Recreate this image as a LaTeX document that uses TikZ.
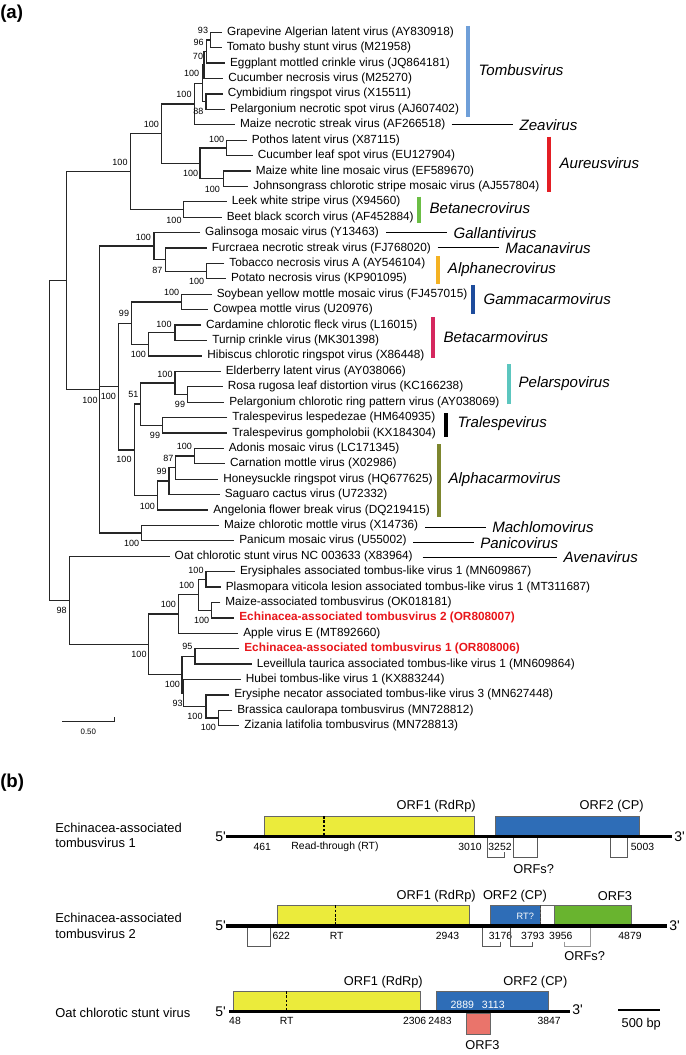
\documentclass[tikz,border=0pt]{standalone}
\usepackage{fontspec}
\setmainfont{Liberation Sans}
\definecolor{tombc}{HTML}{6F9FD8}
\definecolor{aurc}{HTML}{E31E24}
\definecolor{betanc}{HTML}{6BBE45}
\definecolor{alphanc}{HTML}{F4B223}
\definecolor{gammac}{HTML}{1E4C9C}
\definecolor{betac}{HTML}{D5275E}
\definecolor{pelc}{HTML}{5CC6BF}
\definecolor{alphac}{HTML}{7D862E}
\definecolor{echred}{HTML}{E8161B}
\definecolor{yel}{HTML}{EBEB3B}
\definecolor{blu}{HTML}{2E6DB7}
\definecolor{grn}{HTML}{69B42F}
\definecolor{sal}{HTML}{EA746B}
\newcommand\tedge[3]{\draw[br] (#2) -| (#1) |- (#3);}
\begin{document}
\begin{tikzpicture}[x=0.75pt,y=-0.75pt,
  br/.style={line width=0.95pt,black!85},
  leaf/.style={anchor=west,inner xsep=3.6pt,inner ysep=0pt,font=\fontsize{8.85}{10}\selectfont},
  hl/.style={leaf,text=echred,font=\fontsize{8.85}{10}\selectfont\bfseries},
  boot/.style={inner sep=0pt,font=\fontsize{6.75}{8}\selectfont},
  genus/.style={anchor=west,inner xsep=4.5pt,inner ysep=0pt,font=\fontsize{11.3}{13}\selectfont\itshape},
  cbar/.style={line width=3pt},
  gline/.style={line width=1pt,black},
  plab/.style={anchor=west,inner sep=0pt,font=\fontsize{14}{16}\selectfont\bfseries},
  gname/.style={anchor=west,align=left,inner sep=0pt,font=\fontsize{9.7}{11.7}\selectfont},
  pend/.style={anchor=west,inner sep=0pt,font=\fontsize{10.5}{12}\selectfont},
  gen/.style={line width=2.3pt,black},
  orfbox/.style={draw=black!60,line width=0.6pt},
  rtd/.style={line width=0.8pt,black,dash pattern=on 2pt off 1.2pt},
  orfl/.style={inner sep=0pt,font=\fontsize{9.6}{11}\selectfont},
  num/.style={inner sep=0pt,font=\fontsize{7.8}{9}\selectfont},
  sbox/.style={draw=black!65,line width=0.75pt},
  sboxl/.style={draw=black!40,line width=0.75pt}]
\useasboundingbox (0,0) rectangle (685,1055);
\node[plab] (pa) at (0,13.3) {(a)};
\node[plab] (pb) at (0,782.3) {(b)};
% ---------- leaves ----------
\node[leaf] (l1) at (222,32.3) {Grapevine Algerian latent virus (AY830918)};
\node[leaf] (l2) at (221.7,47.71) {Tomato bushy stunt virus (M21958)};
\node[leaf] (l3) at (225,63.12) {Eggplant mottled crinkle virus (JQ864181)};
\node[leaf] (l4) at (223.3,78.53) {Cucumber necrosis virus (M25270)};
\node[leaf] (l5) at (222.7,93.94) {Cymbidium ringspot virus (X15511)};
\node[leaf] (l6) at (225,109.35) {Pelargonium necrotic spot virus (AJ607402)};
\node[leaf] (l7) at (235,124.76) {Maize necrotic streak virus (AF266518)};
\node[leaf] (l8) at (246.7,140.17) {Pothos latent virus (X87115)};
\node[leaf] (l9) at (252.7,155.58) {Cucumber leaf spot virus (EU127904)};
\node[leaf] (l10) at (250.7,170.99) {Maize white line mosaic virus (EF589670)};
\node[leaf] (l11) at (248.3,186.4) {Johnsongrass chlorotic stripe mosaic virus (AJ557804)};
\node[leaf] (l12) at (226.7,201.81) {Leek white stripe virus (X94560)};
\node[leaf] (l13) at (221.7,217.22) {Beet black scorch virus (AF452884)};
\node[leaf] (l14) at (200,232.63) {Galinsoga mosaic virus (Y13463)};
\node[leaf] (l15) at (206.7,248.04) {Furcraea necrotic streak virus (FJ768020)};
\node[leaf] (l16) at (224.3,263.45) {Tobacco necrosis virus A (AY546104)};
\node[leaf] (l17) at (226,278.86) {Potato necrosis virus (KP901095)};
\node[leaf] (l18) at (211.7,294.27) {Soybean yellow mottle mosaic virus (FJ457015)};
\node[leaf] (l19) at (208.3,309.68) {Cowpea mottle virus (U20976)};
\node[leaf] (l20) at (201,325.09) {Cardamine chlorotic fleck virus (L16015)};
\node[leaf] (l21) at (207.3,340.5) {Turnip crinkle virus (MK301398)};
\node[leaf] (l22) at (202.3,355.91) {Hibiscus chlorotic ringspot virus (X86448)};
\node[leaf] (l23) at (220.7,371.32) {Elderberry latent virus (AY038066)};
\node[leaf] (l24) at (222.7,386.73) {Rosa rugosa leaf distortion virus (KC166238)};
\node[leaf] (l25) at (224.3,402.14) {Pelargonium chlorotic ring pattern virus (AY038069)};
\node[leaf] (l26) at (227.3,417.55) {Tralespevirus lespedezae (HM640935)};
\node[leaf] (l27) at (227.3,432.96) {Tralespevirus gompholobii (KX184304)};
\node[leaf] (l28) at (223.7,448.37) {Adonis mosaic virus (LC171345)};
\node[leaf] (l29) at (225,463.78) {Carnation mottle virus (X02986)};
\node[leaf] (l30) at (218.3,479.19) {Honeysuckle ringspot virus (HQ677625)};
\node[leaf] (l31) at (219.7,494.6) {Saguaro cactus virus (U72332)};
\node[leaf] (l32) at (208.3,510.01) {Angelonia flower break virus (DQ219415)};
\node[leaf] (l33) at (219,525.42) {Maize chlorotic mottle virus (X14736)};
\node[leaf] (l34) at (234.3,540.83) {Panicum mosaic virus (U55002)};
\node[leaf] (l35) at (169.5,556.24) {Oat chlorotic stunt virus NC 003633 (X83964)};
\node[leaf] (l36) at (235,571.65) {Erysiphales associated tombus-like virus 1 (MN609867)};
\node[leaf] (l37) at (220.7,587.06) {Plasmopara viticola lesion associated tombus-like virus 1 (MT311687)};
\node[leaf] (l38) at (220.3,602.47) {Maize-associated tombusvirus (OK018181)};
\node[hl] (l39) at (234.3,617.88) {Echinacea-associated tombusvirus 2 (OR808007)};
\node[leaf] (l40) at (238.3,633.29) {Apple virus E (MT892660)};
\node[hl] (l41) at (239.3,648.7) {Echinacea-associated tombusvirus 1 (OR808006)};
\node[leaf] (l42) at (251.7,664.11) {Leveillula taurica associated tombus-like virus 1 (MN609864)};
\node[leaf] (l43) at (240.7,679.52) {Hubei tombus-like virus 1 (KX883244)};
\node[leaf] (l44) at (229.3,694.93) {Erysiphe necator associated tombus-like virus 3 (MN627448)};
\node[leaf] (l45) at (232.3,710.34) {Brassica caulorapa tombusvirus (MN728812)};
\node[leaf] (l46) at (239.3,725.75) {Zizania latifolia tombusvirus (MN728813)};
% ---------- internal nodes ----------
\coordinate (A) at (210.7,40.0);
\coordinate (B) at (206.7,51.6);
\coordinate (C) at (204,65.1);
\coordinate (E) at (206,101.6);
\coordinate (D) at (202.7,83.4);
\coordinate (F) at (194.3,104.1);
\coordinate (P1) at (226.7,147.9);
\coordinate (P2) at (223.3,178.7);
\coordinate (H) at (200,163.3);
\coordinate (G) at (161.7,133.7);
\coordinate (Bn) at (183.3,209.5);
\coordinate (I) at (130.7,171.6);
\coordinate (R) at (206.7,271.2);
\coordinate (Q) at (165.7,259.6);
\coordinate (Gal) at (154,246.1);
\coordinate (Gm) at (181.7,302.0);
\coordinate (CT) at (175,332.8);
\coordinate (Bc) at (148.3,344.4);
\coordinate (GB) at (131.7,323.2);
\coordinate (RP) at (187.7,394.4);
\coordinate (Pel) at (175,382.9);
\coordinate (Tr) at (162.7,425.3);
\coordinate (PT) at (140.7,404.1);
\coordinate (AC) at (194.3,456.1);
\coordinate (AC2) at (175.7,467.6);
\coordinate (AC3) at (169,481.1);
\coordinate (Al) at (157.7,495.6);
\coordinate (N) at (134.3,449.9);
\coordinate (L) at (118.3,386.5);
\coordinate (MP) at (141.7,533.1);
\coordinate (K) at (99.3,389.6);
\coordinate (J) at (66.7,280.6);
\coordinate (V) at (206,579.4);
\coordinate (W) at (211.7,610.2);
\coordinate (U) at (198.3,594.8);
\coordinate (T) at (178.3,614.0);
\coordinate (Y) at (195,656.4);
\coordinate (BZ) at (218.3,718.0);
\coordinate (Zc) at (206,706.5);
\coordinate (X2) at (183.5,693.0);
\coordinate (X1) at (182,674.7);
\coordinate (S) at (148.3,644.4);
\coordinate (O) at (69.3,600.3);
\coordinate (Rt) at (49.3,440.5);
% ---------- edges ----------
\tedge{A}{l1.west}{l2.west}
\tedge{B}{A}{l3.west}
\tedge{C}{B}{l4.west}
\tedge{E}{l5.west}{l6.west}
\tedge{D}{C}{E}
\tedge{F}{D}{l7.west}
\tedge{P1}{l8.west}{l9.west}
\tedge{P2}{l10.west}{l11.west}
\tedge{H}{P1}{P2}
\tedge{G}{F}{H}
\tedge{Bn}{l12.west}{l13.west}
\tedge{I}{G}{Bn}
\tedge{R}{l16.west}{l17.west}
\tedge{Q}{l15.west}{R}
\tedge{Gal}{l14.west}{Q}
\tedge{Gm}{l18.west}{l19.west}
\tedge{CT}{l20.west}{l21.west}
\tedge{Bc}{CT}{l22.west}
\tedge{GB}{Gm}{Bc}
\tedge{RP}{l24.west}{l25.west}
\tedge{Pel}{l23.west}{RP}
\tedge{Tr}{l26.west}{l27.west}
\tedge{PT}{Pel}{Tr}
\tedge{AC}{l28.west}{l29.west}
\tedge{AC2}{AC}{l30.west}
\tedge{AC3}{AC2}{l31.west}
\tedge{Al}{AC3}{l32.west}
\tedge{N}{PT}{Al}
\tedge{L}{GB}{N}
\tedge{MP}{l33.west}{l34.west}
\tedge{K}{Gal}{MP}
\draw[br] (K |- L) -- (L);
\tedge{J}{I}{K}
\tedge{V}{l36.west}{l37.west}
\tedge{W}{l38.west}{l39.west}
\tedge{U}{V}{W}
\tedge{T}{U}{l40.west}
\tedge{Y}{l41.west}{l42.west}
\tedge{BZ}{l45.west}{l46.west}
\tedge{Zc}{l44.west}{BZ}
\tedge{X2}{l43.west}{Zc}
\tedge{X1}{Y}{X2}
\tedge{S}{T}{X1}
\tedge{O}{l35.west}{S}
\tedge{Rt}{J}{O}
% ---------- bootstrap ----------
\node[boot] (bA) at (203,30.7) {93};
\node[boot] (bB) at (198.7,42.3) {96};
\node[boot] (bC) at (198,56) {70};
\node[boot] (bE) at (198.3,111.7) {88};
\node[boot] (bD) at (191.7,73.3) {100};
\node[boot] (bF) at (184,94.3) {100};
\node[boot] (bG) at (151.3,124) {100};
\node[boot] (bP1) at (216.7,139.3) {100};
\node[boot] (bH) at (190.7,173.3) {100};
\node[boot] (bP2) at (212.3,189) {100};
\node[boot] (bI) at (120,162.7) {100};
\node[boot] (bBn) at (174,220) {100};
\node[boot] (bGal) at (143.3,237.3) {100};
\node[boot] (bQ) at (157.3,270) {87};
\node[boot] (bR) at (196.7,281.7) {100};
\node[boot] (bGm) at (171.7,292.7) {100};
\node[boot] (bGB) at (124,313.3) {99};
\node[boot] (bCT) at (164,324) {100};
\node[boot] (bBc) at (138.3,354.3) {100};
\node[boot] (bPel) at (165,374) {100};
\node[boot] (bPT) at (133.3,394) {51};
\node[boot] (bRP) at (180,404.3) {99};
\node[boot] (bTr) at (155,435.7) {99};
\node[boot] (bJ) at (90,400) {100};
\node[boot] (bK) at (108.3,396) {100};
\node[boot] (bAC) at (184.3,446.7) {100};
\node[boot] (bAC2) at (168.3,458.3) {87};
\node[boot] (bN) at (124,459.3) {100};
\node[boot] (bAC3) at (161.7,471) {99};
\node[boot] (bAl) at (147.3,506) {100};
\node[boot] (bMP) at (131.7,543.3) {100};
\node[boot] (bV) at (196,570.7) {100};
\node[boot] (bU) at (186.7,585.7) {100};
\node[boot] (bT) at (168.3,604.3) {100};
\node[boot] (bW) at (201.7,620) {100};
\node[boot] (bO) at (61.7,610) {98};
\node[boot] (bS) at (139,654.3) {100};
\node[boot] (bY) at (187.3,646.7) {95};
\node[boot] (bX1) at (172.3,684) {100};
\node[boot] (bX2) at (177.7,703.3) {93};
\node[boot] (bZc) at (195,716.7) {100};
\node[boot] (bBZ) at (208.3,727.7) {100};
% scale bar
\coordinate (sb1) at (62.3,721.7);
\coordinate (sb2) at (114.3,721.7);
\draw[br] (sb1) -- (sb2) -- ++(0,-5);
\node[inner sep=0pt,font=\fontsize{5.9}{7}\selectfont] (sbl) at (88.3,731.7) {0.50};
% ---------- genera ----------
\draw[cbar,tombc] (468.3,26) -- (468.3,116.7);
\node[genus] (gTomb) at (472.3,70) {Tombusvirus};
\coordinate (zS) at (451.7,124.7);
\node[genus] (gZea) at (513.3,124.7) {Zeavirus};
\draw[gline] (zS) -- (gZea.west);
\draw[cbar,aurc] (549.3,136.7) -- (549.3,191.7);
\node[genus] (gAur) at (553.3,163.3) {Aureusvirus};
\draw[cbar,betanc] (419,196.7) -- (419,222.7);
\node[genus] (gBetn) at (423.3,208.3) {Betanecrovirus};
\coordinate (gaS) at (386,232.7);
\node[genus] (gGal) at (447.3,232.7) {Gallantivirus};
\draw[gline] (gaS) -- (gGal.west);
\coordinate (maS) at (437.7,247.7);
\node[genus] (gMac) at (499,247.7) {Macanavirus};
\draw[gline] (maS) -- (gMac.west);
\draw[cbar,alphanc] (437.7,256) -- (437.7,284);
\node[genus] (gAlpn) at (441.7,269.3) {Alphanecrovirus};
\draw[cbar,gammac] (473.3,285) -- (473.3,314.3);
\node[genus] (gGam) at (477.3,299) {Gammacarmovirus};
\draw[cbar,betac] (433.3,317.3) -- (433.3,358.3);
\node[genus] (gBetc) at (437.3,337.3) {Betacarmovirus};
\draw[cbar,pelc] (509,364.3) -- (509,404);
\node[genus] (gPel) at (512.3,383.3) {Pelarspovirus};
\draw[cbar,black] (446,413.3) -- (446,437.3);
\node[genus] (gTra) at (451.3,424) {Tralespevirus};
\draw[cbar,alphac] (439,444) -- (439,516.7);
\node[genus] (gAlpc) at (442.3,479.3) {Alphacarmovirus};
\coordinate (mcS) at (425,527.3);
\node[genus] (gMach) at (486,527.3) {Machlomovirus};
\draw[gline] (mcS) -- (gMach.west);
\coordinate (paS) at (413.3,542.7);
\node[genus] (gPan) at (474,542.7) {Panicovirus};
\draw[gline] (paS) -- (gPan.west);
\coordinate (avS) at (422.7,557.3);
\node[genus] (gAve) at (557.3,557.3) {Avenavirus};
\draw[gline] (avS) -- (gAve.west);
% ================= panel b =================
% row 1
\node[gname] (n1) at (55,835.5) {Echinacea-associated\\tombusvirus 1};
\filldraw[orfbox,fill=yel] (264,816) rectangle (474,835.5);
\draw[rtd] (324,816) -- (324,835.5);
\filldraw[orfbox,fill=blu] (495.7,816) rectangle (639.3,835.5);
\node[pend] (f1) at (215,836.7) {5\textquotesingle};
\node[pend,inner xsep=1.5pt] (e1) at (672,836.7) {3\textquotesingle};
\draw[gen] (f1.east) -- (e1.west);
\node[orfl] (o11) at (436.2,805.7) {ORF1 (RdRp)};
\node[orfl] (o12) at (611.7,805.7) {ORF2 (CP)};
\node[num] (r1a) at (262.3,846.7) {461};
\node[num] (r1b) at (335,846.7) {Read-through (RT)};
\node[num] (r1c) at (470,846.7) {3010};
\node[num] (r1d) at (500,846.7) {3252};
\node[num] (r1e) at (642.5,846.7) {5003};
\draw[sbox] (504.3,852) -- (504.3,857.7) -- (487.3,857.7) -- (487.3,838.2);
\draw[sbox] (513.7,838.2) -- (513.7,857.7) -- (537.3,857.7) -- (537.3,838.2);
\draw[sbox] (610,838.2) -- (610,857.7) -- (627.7,857.7) -- (627.7,838.2);
\node[orfl] (q1) at (533.7,869) {ORFs?};
% row 2
\node[gname] (n2) at (55,925.8) {Echinacea-associated\\tombusvirus 2};
\filldraw[orfbox,fill=yel] (277.7,905.3) rectangle (469,925);
\draw[rtd] (335.7,905.3) -- (335.7,925);
\filldraw[orfbox,fill=blu] (490.7,905.3) rectangle (540.7,925);
\filldraw[orfbox,fill=white] (540.7,905.3) rectangle (554,925);
\draw[rtd,black!75] (540.7,905.3) -- (540.7,925);
\filldraw[orfbox,fill=grn] (554,905.3) rectangle (631.7,925);
\node[inner sep=0pt,text=white,font=\fontsize{6.9}{8}\selectfont] (rtq) at (525.3,916) {RT?};
\node[pend] (f2) at (215,926) {5\textquotesingle};
\node[pend,inner xsep=1.5pt] (e2) at (667,926) {3\textquotesingle};
\draw[gen] (f2.east) -- (e2.west);
\node[orfl] (o21) at (436.2,896) {ORF1 (RdRp)};
\node[orfl] (o22) at (515,896) {ORF2 (CP)};
\node[orfl] (o23) at (615,896) {ORF3};
\node[num] (r2a) at (281.3,935.7) {622};
\node[num] (r2b) at (336.7,935.7) {RT};
\node[num] (r2c) at (447.5,935.7) {2943};
\node[num] (r2d) at (500.5,935.7) {3176};
\node[num] (r2e) at (532.8,935.7) {3793};
\node[num] (r2f) at (560.8,935.7) {3956};
\node[num] (r2g) at (630,935.7) {4879};
\draw[sbox] (247.3,927.5) -- (247.3,946.7) -- (270.7,946.7) -- (270.7,927.5);
\draw[sbox] (500,941.5) -- (500,946.7) -- (482.3,946.7) -- (482.3,927.5);
\draw[sbox] (510.7,927.5) -- (510.7,946.7) -- (532.3,946.7) -- (532.3,941.5);
\draw[sboxl] (564,941.5) -- (564,946.7) -- (590,946.7) -- (590,927.5);
\node[orfl] (q2) at (584.7,955.7) {ORFs?};
% row 3
\node[gname] (n3) at (55,1012.7) {Oat chlorotic stunt virus};
\filldraw[orfbox,fill=yel] (233.3,991) rectangle (420.7,1010.5);
\draw[rtd] (286.7,991) -- (286.7,1010.5);
\filldraw[orfbox,fill=blu] (436,991) rectangle (548.3,1010.5);
\filldraw[orfbox,fill=sal] (466,1013) rectangle (490,1034);
\node[inner sep=0pt,text=white,font=\fontsize{7.9}{9}\selectfont] (c1) at (462.3,1005) {2889};
\node[inner sep=0pt,text=white,font=\fontsize{7.9}{9}\selectfont] (c2) at (493.3,1005) {3113};
\node[pend] (f3) at (215,1011.7) {5\textquotesingle};
\node[pend,inner xsep=1.5pt] (e3) at (570,1010) {3\textquotesingle};
\draw[gen] ([xshift=2.5pt]f3.east) -- (e3.west |- f3.east);
\node[orfl] (o31) at (383.3,981.7) {ORF1 (RdRp)};
\node[orfl] (o32) at (535.3,981.7) {ORF2 (CP)};
\node[orfl] (o33) at (482.5,1045) {ORF3};
\node[num] (r3a) at (235,1021) {48};
\node[num] (r3b) at (286.7,1021) {RT};
\node[num] (r3c) at (414.7,1021) {2306};
\node[num] (r3d) at (440,1021) {2483};
\node[num] (r3e) at (549.2,1021) {3847};
\coordinate (bp1) at (618.3,1010);
\coordinate (bp2) at (660,1010);
\draw[line width=0.8pt] (bp1) -- (bp2);
\node[orfl] (bpl) at (641.2,1024.3) {500 bp};
\end{tikzpicture}
\end{document}
